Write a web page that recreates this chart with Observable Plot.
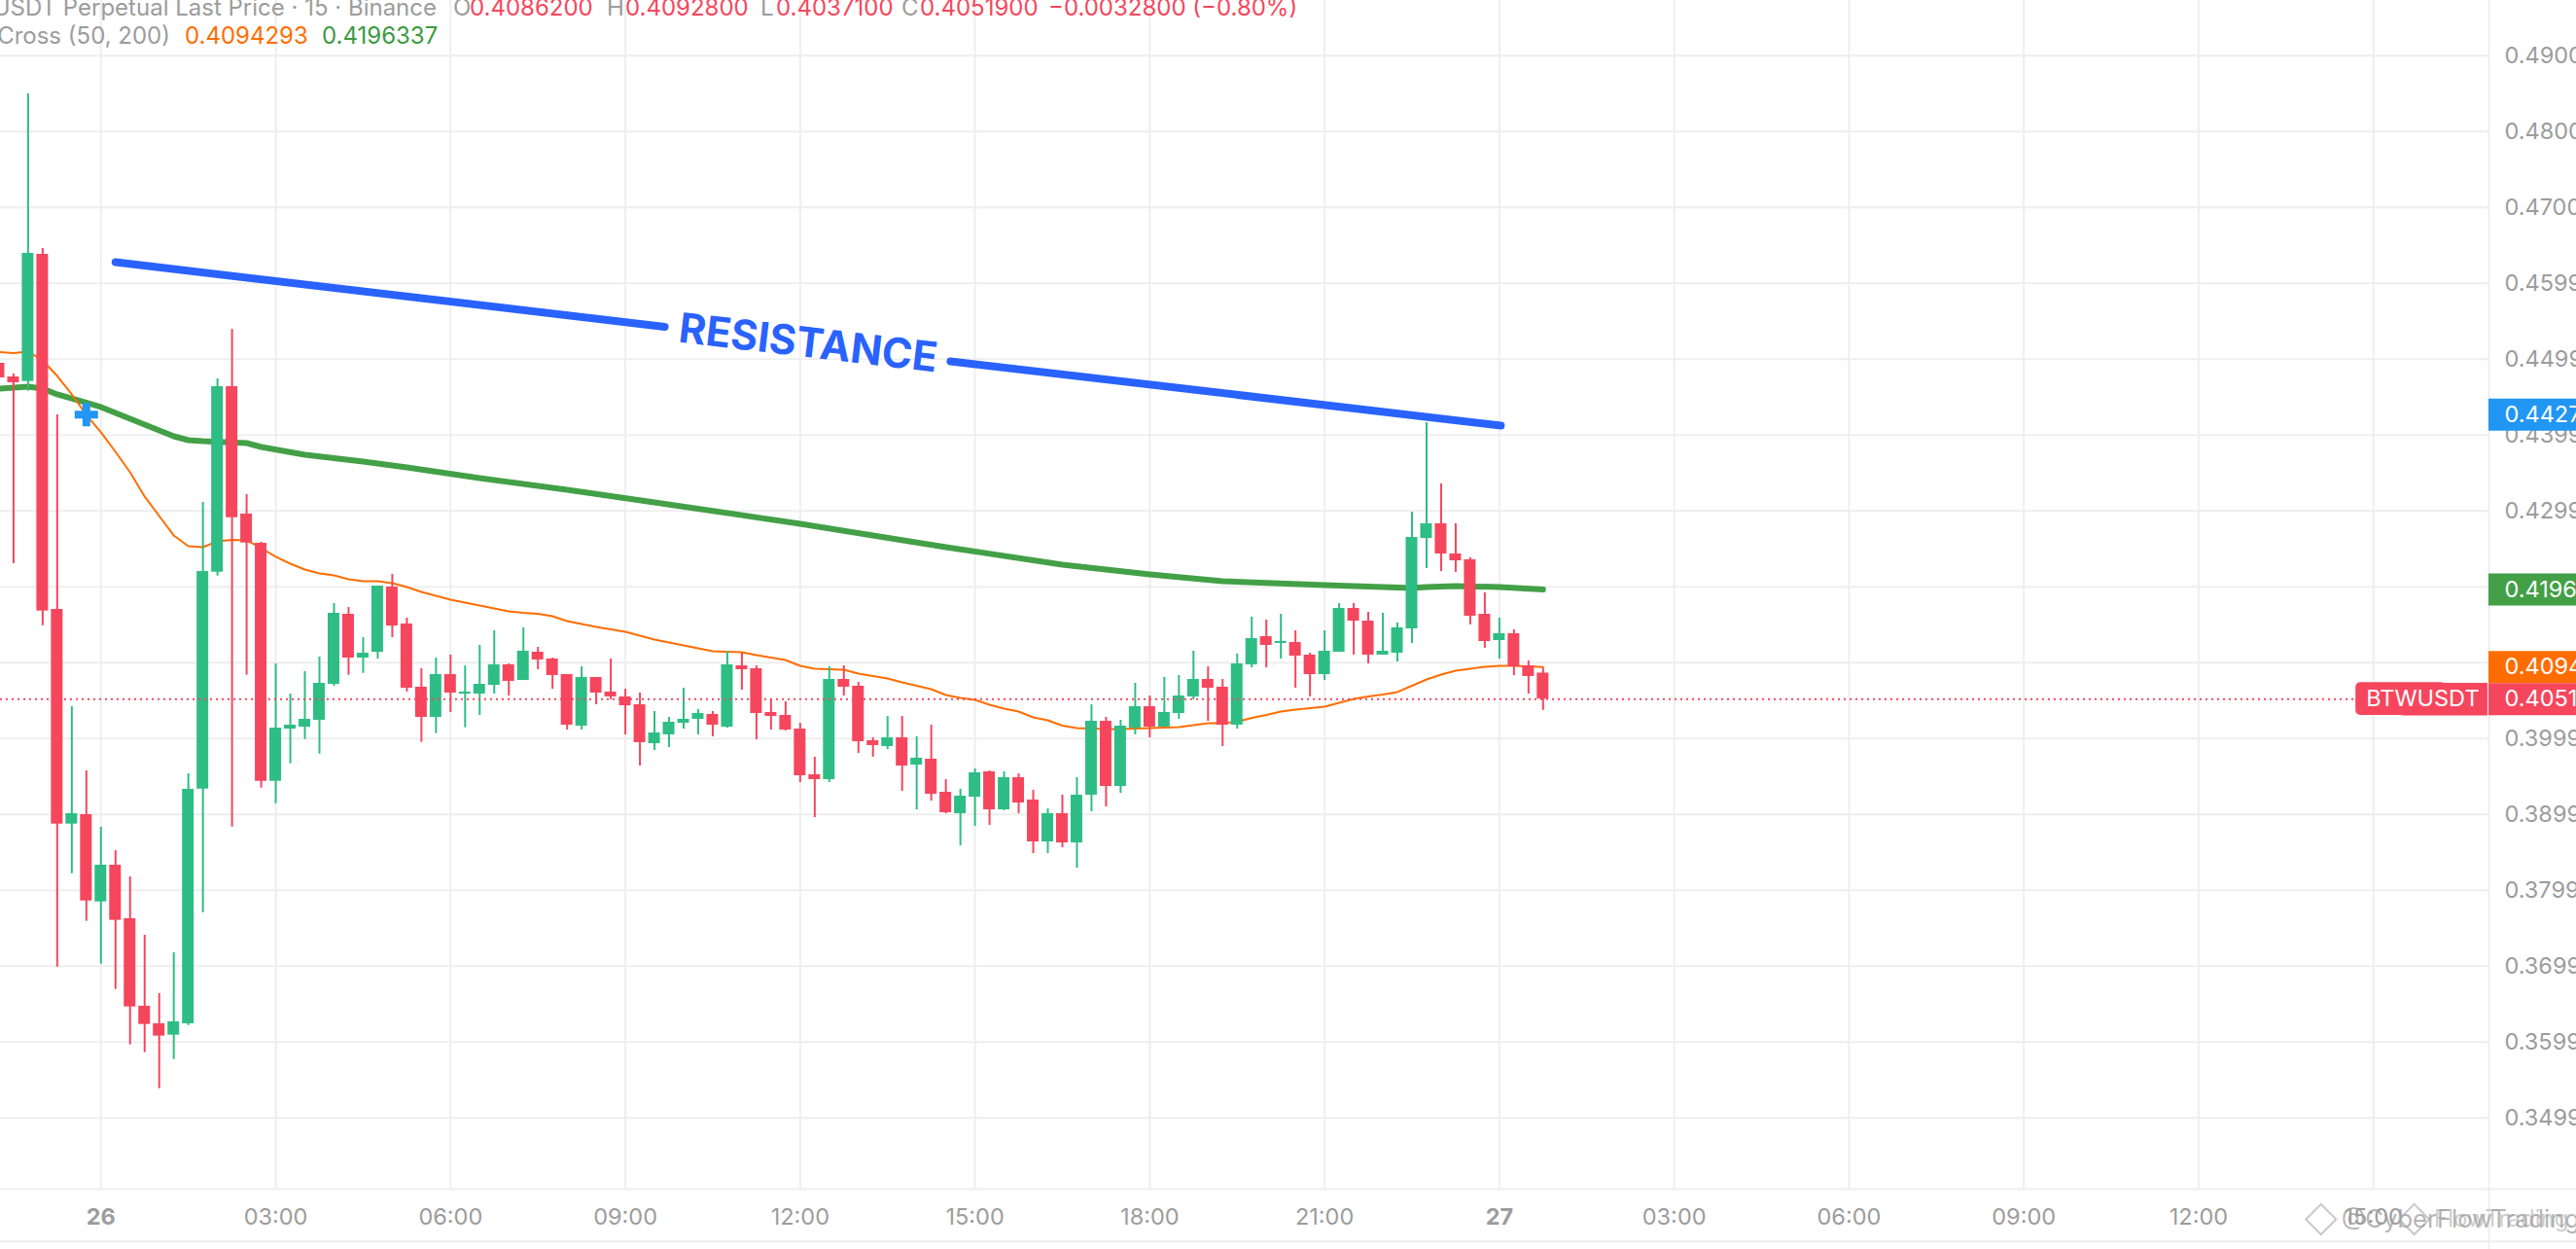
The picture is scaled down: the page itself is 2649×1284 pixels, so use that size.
<!DOCTYPE html>
<html>
<head>
<meta charset="utf-8">
<script src="https://cdn.jsdelivr.net/npm/d3@7"></script>
<script src="https://cdn.jsdelivr.net/npm/@observablehq/plot@0.6"></script>
<style>
  html, body { margin: 0; padding: 0; background: #fff; width: 2649px; height: 1284px; overflow: hidden; }
  #wrap { position: relative; width: 2649px; height: 1284px; overflow: hidden; }
  #wrap svg { display: block; }
  g[aria-label="scale-text"] text { letter-spacing: 0.8px; }
  .lg { position: absolute; font: 400 24px Inter, sans-serif; white-space: nowrap; line-height: 30px; }
</style>
</head>
<body>
<div id="wrap"></div>
<script>
// OHLC; bar index 0 is the 15-minute bar at 26 00:00
const firstBar = -7;
const opens = [.44945,.44765,.44705,.46381,.41701,.38872,.38996,.37846,.38330,.37624,.36471,.36240,.36090,.36240,.39333,.42192,.44637,.42958,.42573,.39436,.40124,.40150,.40240,.40714,.41637,.41060,.41137,.41996,.41509,.40676,.40278,.40842,.40586,.40586,.40701,.40971,.40765,.41137,.41048,.40842,.40163,.40804,.40612,.40548,.40445,.39932,.40048,.40201,.40253,.40317,.40150,.40958,.40919,.40342,.40304,.40124,.39522,.39458,.40778,.40689,.39971,.39894,.40009,.39650,.39727,.39291,.39009,.39227,.39560,.39060,.39483,.39189,.38637,.39009,.38624,.39253,.40227,.39368,.40137,.40419,.40150,.40330,.40548,.40778,.40676,.40176,.40971,.41342,.41253,.41265,.41099,.40842,.41137,.41714,.41547,.41099,.41124,.41445,.42637,.42830,.42432,.42355,.41637,.41291,.41381,.40958,.40862];
const highs = [.45009,.44804,.48496,.46458,.44265,.40419,.39573,.38830,.38522,.38176,.37407,.36637,.37176,.39535,.43112,.44740,.45394,.43214,.42586,.40983,.40586,.40881,.41073,.41778,.41727,.41330,.42009,.42163,.41586,.40919,.41060,.41099,.40958,.41227,.41419,.40983,.41458,.41201,.41060,.40842,.40945,.40804,.41048,.40650,.40599,.40355,.40278,.40663,.40381,.40355,.41150,.41124,.40958,.40522,.40484,.40201,.39753,.40945,.40958,.40740,.40009,.40291,.40291,.40022,.40176,.39458,.39330,.39599,.39573,.39560,.39535,.39317,.39073,.39253,.39483,.40445,.40278,.40240,.40727,.40560,.40804,.40830,.41150,.40945,.40778,.41112,.41599,.41560,.41637,.41419,.41124,.41419,.41778,.41778,.41663,.41650,.41522,.42983,.44163,.43355,.42830,.42381,.41919,.41586,.41432,.41022,.40928];
const lows = [.44663,.42304,.44577,.41487,.36987,.38218,.37590,.37026,.36693,.35962,.35859,.35385,.35769,.36218,.37705,.42141,.38833,.40833,.39346,.39141,.39667,.39987,.39795,.40689,.40833,.40859,.41047,.41330,.40612,.39949,.40064,.40342,.40141,.40304,.40586,.40560,.40765,.40907,.40650,.40112,.40112,.40445,.40509,.40048,.39637,.39842,.39881,.40124,.40048,.40022,.40137,.40637,.39983,.40112,.40099,.39419,.38958,.39419,.40560,.39804,.39753,.39855,.39304,.39060,.39176,.39009,.38586,.38842,.38855,.39048,.39009,.38483,.38483,.38560,.38291,.39035,.39099,.39278,.40048,.40009,.40150,.40253,.40509,.40227,.39894,.40124,.40932,.40932,.41047,.40663,.40548,.40765,.41137,.41099,.40983,.41099,.41009,.41253,.42240,.42201,.42189,.41497,.41189,.41048,.40830,.40586,.40371];
const closes = [.44753,.44689,.46394,.41680,.38872,.39009,.37859,.38330,.37603,.36462,.36231,.36077,.36265,.39330,.42201,.44637,.42910,.42577,.39436,.40137,.40176,.40253,.40727,.41650,.41060,.41124,.42009,.41483,.40663,.40278,.40842,.40599,.40612,.40714,.40971,.40753,.41150,.41035,.40830,.40176,.40804,.40599,.40548,.40432,.39945,.40073,.40214,.40253,.40330,.40176,.40971,.40907,.40330,.40291,.40112,.39509,.39458,.40778,.40676,.39958,.39907,.40009,.39637,.39740,.39265,.39022,.39240,.39548,.39060,.39483,.39150,.38637,.39009,.38624,.39253,.40227,.39368,.40163,.40419,.40150,.40342,.40560,.40778,.40663,.40176,.40983,.41317,.41227,.41278,.41086,.40842,.41150,.41714,.41547,.41099,.41150,.41458,.42650,.42830,.42432,.42342,.41612,.41278,.41381,.40945,.40817,.40519];

// Golden Cross (50, 200): the 50 line, one value per bar
const ma50 = [.45092,.45080,.45099,.44983,.44778,.44535,.44265,.44035,.43778,.43509,.43189,.42932,.42676,.42535,.42522,.42599,.42618,.42612,.42509,.42394,.42304,.42227,.42176,.42150,.42099,.42073,.42073,.42048,.41996,.41932,.41881,.41830,.41791,.41753,.41714,.41676,.41657,.41644,.41612,.41547,.41509,.41471,.41439,.41407,.41355,.41304,.41265,.41227,.41189,.41150,.41144,.41137,.41099,.41067,.41035,.40958,.40919,.40913,.40907,.40855,.40823,.40791,.40740,.40695,.40650,.40573,.40535,.40509,.40445,.40394,.40355,.40278,.40240,.40169,.40137,.40131,.40124,.40124,.40131,.40137,.40144,.40150,.40176,.40201,.40201,.40221,.40272,.40310,.40355,.40381,.40400,.40419,.40471,.40522,.40554,.40580,.40612,.40695,.40778,.40842,.40894,.40919,.40945,.40958,.40958,.40951,.4094293];
// the 200 line, read at its visible bends
const ma200T = [-7,-5,-4,-3,-2,0,2,5,6,7,10,11,14,18,21,26,32,38,48,58,66,72,77,84,90,91,93,96,99];
const ma200 = [.44612,.44637,.44612,.44535,.44483,.44368,.44214,.43983,.43932,.43919,.43894,.43842,.43740,.43650,.43573,.43432,.43278,.43112,.42830,.42522,.42291,.42163,.42073,.42022,.41983,.41996,.42009,.41996,.4196337];

// hand-drawn resistance line and its marker
const resistanceT = [1, 38.7, 58.32, 96.1];
const resistanceP = [.46278, .45426, .44971, .44124];
const resistanceLabel = {t: 48.55, p: .45201, text: "RESISTANCE", angle: 6.7};
const markerT = -1, markerP = .4427;

// axes
const priceGrid = [.49,.48,.47,.46,.45,.44,.43,.42,.41,.40,.39,.38,.37,.36,.35];
const priceLabels = ["0.4900000","0.4800000","0.4700000","0.4599000","0.4499000","0.4399000","0.4299000","0.4199000","0.4099000","0.3999000","0.3899000","0.3799000","0.3699000","0.3599000","0.3499000"];
const timeTicks = [0,12,24,36,48,60,72,84,96,108,120,132,144,156];
const timeLabels = ["26","03:00","06:00","09:00","12:00","15:00","18:00","21:00","27","03:00","06:00","09:00","12:00","15:00"];
const dayTicks = ["26","27"];

// flags on the price scale
const tags = [
  {p: .4427, text: "0.4427000", color: "#2196F3"},
  {p: .4196337, text: "0.4196337", color: "#43A047"},
  {p: .4094293, text: "0.4094293", color: "#FF6D00"},
  {p: .40519, text: "0.4051900", color: "#F6465D"}
];
const lastPrice = .40519, symbol = "BTWUSDT";

// scale frame
const domainX = [-6.896, 169.94];
const domainY = [.33265, .49727];
const axisT = 163.93, rightT = 169.94, leftT = -6.896;
const axisP = .3406, footP = .33372, topP = .49727;
const tagHalf = .00216;

const up = "#2EBD85", down = "#F6465D", gridC = "#EEEEEE", textC = "#9C9C9C";
const font = "Inter";

const bars = opens.map((o, i) => ({t: firstBar + i, o, h: highs[i], l: lows[i], c: closes[i]}));
const rising = bars.filter(b => b.c >= b.o), falling = bars.filter(b => b.c < b.o);
const ma50Rows = ma50.map((p, i) => ({t: firstBar + i, p}));
const ma200Rows = ma200.map((p, i) => ({t: ma200T[i], p}));
const timeRows = timeTicks.map((t, i) => ({t, label: timeLabels[i]}));
const priceRows = priceGrid.map((p, i) => ({p, label: priceLabels[i]}));
const wick = (rows, stroke) => Plot.ruleX(rows, {x: "t", y1: "l", y2: "h", stroke, strokeWidth: 2});
const body = (rows, fill) => Plot.rect(rows, {x1: d => d.t - .4, x2: d => d.t + .4, y1: "o", y2: "c", fill});

const chart = Plot.plot({
  width: 2649, height: 1284,
  marginTop: 0, marginRight: 0, marginBottom: 0, marginLeft: 0,
  style: {background: "#fff", fontFamily: font, overflow: "hidden"},
  x: {domain: domainX, axis: null},
  y: {domain: domainY, axis: null},
  marks: [
    // grid and scale borders
    Plot.ruleY(priceGrid, {x1: leftT, x2: axisT, stroke: gridC, strokeWidth: 2}),
    Plot.ruleX(timeTicks, {y1: axisP, y2: topP, stroke: gridC, strokeWidth: 2}),
    Plot.ruleX([axisT], {y1: domainY[0], y2: topP, stroke: gridC, strokeWidth: 2}),
    Plot.ruleY([axisP, footP], {x1: leftT, x2: rightT, stroke: gridC, strokeWidth: 2}),
    // moving averages
    Plot.line(ma200Rows, {x: "t", y: "p", stroke: "#43A047", strokeWidth: 6}),
    Plot.line(ma50Rows, {x: "t", y: "p", stroke: "#FF6D00", strokeWidth: 2}),
    // candles
    wick(rising, up), wick(falling, down),
    body(rising, up), body(falling, down),
    // last price
    Plot.ruleY([lastPrice], {x1: leftT, x2: axisT, stroke: down, strokeWidth: 2, strokeDasharray: "2,4"}),
    // resistance drawing
    Plot.line([0, 1], {x: i => resistanceT[i], y: i => resistanceP[i], stroke: "#2962FF", strokeWidth: 8, strokeLinecap: "round"}),
    Plot.line([2, 3], {x: i => resistanceT[i], y: i => resistanceP[i], stroke: "#2962FF", strokeWidth: 8, strokeLinecap: "round"}),
    Plot.text([resistanceLabel], {x: "t", y: "p", text: "text", rotate: resistanceLabel.angle, fontSize: 42.5, fontWeight: 700, fill: "#2962FF", fontFamily: font, lineAnchor: "middle"}),
    Plot.dot([0], {x: () => markerT, y: () => markerP, symbol: "cross", r: 10.09, fill: "#2196F3", stroke: "none"}),
    // time scale
    Plot.text(timeRows.filter(d => !dayTicks.includes(d.label)), {ariaLabel: "scale-text", x: "t", y: () => axisP, dy: 29, text: "label", fontSize: 23.5, fill: textC, fontFamily: font, lineAnchor: "middle"}),
    Plot.text(timeRows.filter(d => dayTicks.includes(d.label)), {ariaLabel: "scale-text", x: "t", y: () => axisP, dy: 29, text: "label", fontSize: 23.5, fontWeight: 700, fill: textC, fontFamily: font, lineAnchor: "middle"}),
    // price scale
    Plot.text(priceRows, {ariaLabel: "scale-text", x: () => axisT, y: "p", dx: 16, text: "label", textAnchor: "start", fontSize: 23.5, fill: textC, fontFamily: font, lineAnchor: "middle"}),
    // price flags
    Plot.ruleY(tags, {y: "p", x1: axisT, x2: rightT, stroke: "color", strokeWidth: 33}),
    Plot.text(tags, {ariaLabel: "scale-text", x: () => axisT, y: "p", dx: 16, text: "text", textAnchor: "start", fontSize: 23.5, fill: "#fff", fontFamily: font, lineAnchor: "middle"}),
    Plot.rect([0], {x1: 154.8, x2: 161, y1: () => lastPrice - tagHalf, y2: () => lastPrice + tagHalf, fill: down, rx: 5}),
    Plot.ruleY([lastPrice], {x1: 158, x2: axisT - .07, stroke: down, strokeWidth: 33.5}),
    Plot.text([symbol], {ariaLabel: "scale-text", x: () => 155.5, y: () => lastPrice, text: d => d, textAnchor: "start", fontSize: 23.5, fill: "#fff", fontFamily: font, lineAnchor: "middle"}),
    // watermark
    Plot.dot([152.4, 158.8], {x: d => d, y: () => footP + .00291, symbol: "diamond2", r: 14, stroke: "#C9C9C9", strokeWidth: 2, fill: "none"}),
    Plot.text(["@CyberFlowTrading"], {x: () => 153.8, y: () => footP + .00291, text: d => d, textAnchor: "start", fontSize: 25.5, fill: "#9C9C9C", fillOpacity: .75, fontFamily: font, lineAnchor: "middle"}),
    Plot.text(["FlowTrading"], {x: () => 169.4, y: () => footP + .00291, text: d => d, textAnchor: "end", fontSize: 24, fill: "#9C9C9C", fillOpacity: .5, fontFamily: font, lineAnchor: "middle"})
  ]
});
const wrap = document.getElementById("wrap");
wrap.appendChild(chart);

// legend lines across the top of the pane
const legend = [
  ["USDT Perpetual Last Price · 15 · Binance", textC, "right", 2200],
  ["O", textC, 466, -7], ["0.4086200", down, 483, -7],
  ["H", textC, 624, -7], ["0.4092800", down, 643, -7],
  ["L", textC, 782, -7], ["0.4037100", down, 798, -7],
  ["C", textC, 927, -7], ["0.4051900", down, 946, -7],
  ["−0.0032800 (−0.80%)", down, 1078, -7],
  ["Cross (50, 200)", textC, "right2", 22],
  ["0.4094293", "#FF6D00", 190, 22],
  ["0.4196337", "#3B9A3F", 331, 22]
];
for (const [text, color, left, top] of legend) {
  const s = document.createElement("span");
  s.className = "lg";
  s.textContent = text;
  s.style.color = color;
  if (left === "right") { s.style.right = (2649 - 449) + "px"; s.style.top = "-7px"; }
  else if (left === "right2") { s.style.right = (2649 - 175) + "px"; s.style.top = top + "px"; }
  else { s.style.left = left + "px"; s.style.top = top + "px"; }
  wrap.appendChild(s);
}
</script>
</body>
</html>
